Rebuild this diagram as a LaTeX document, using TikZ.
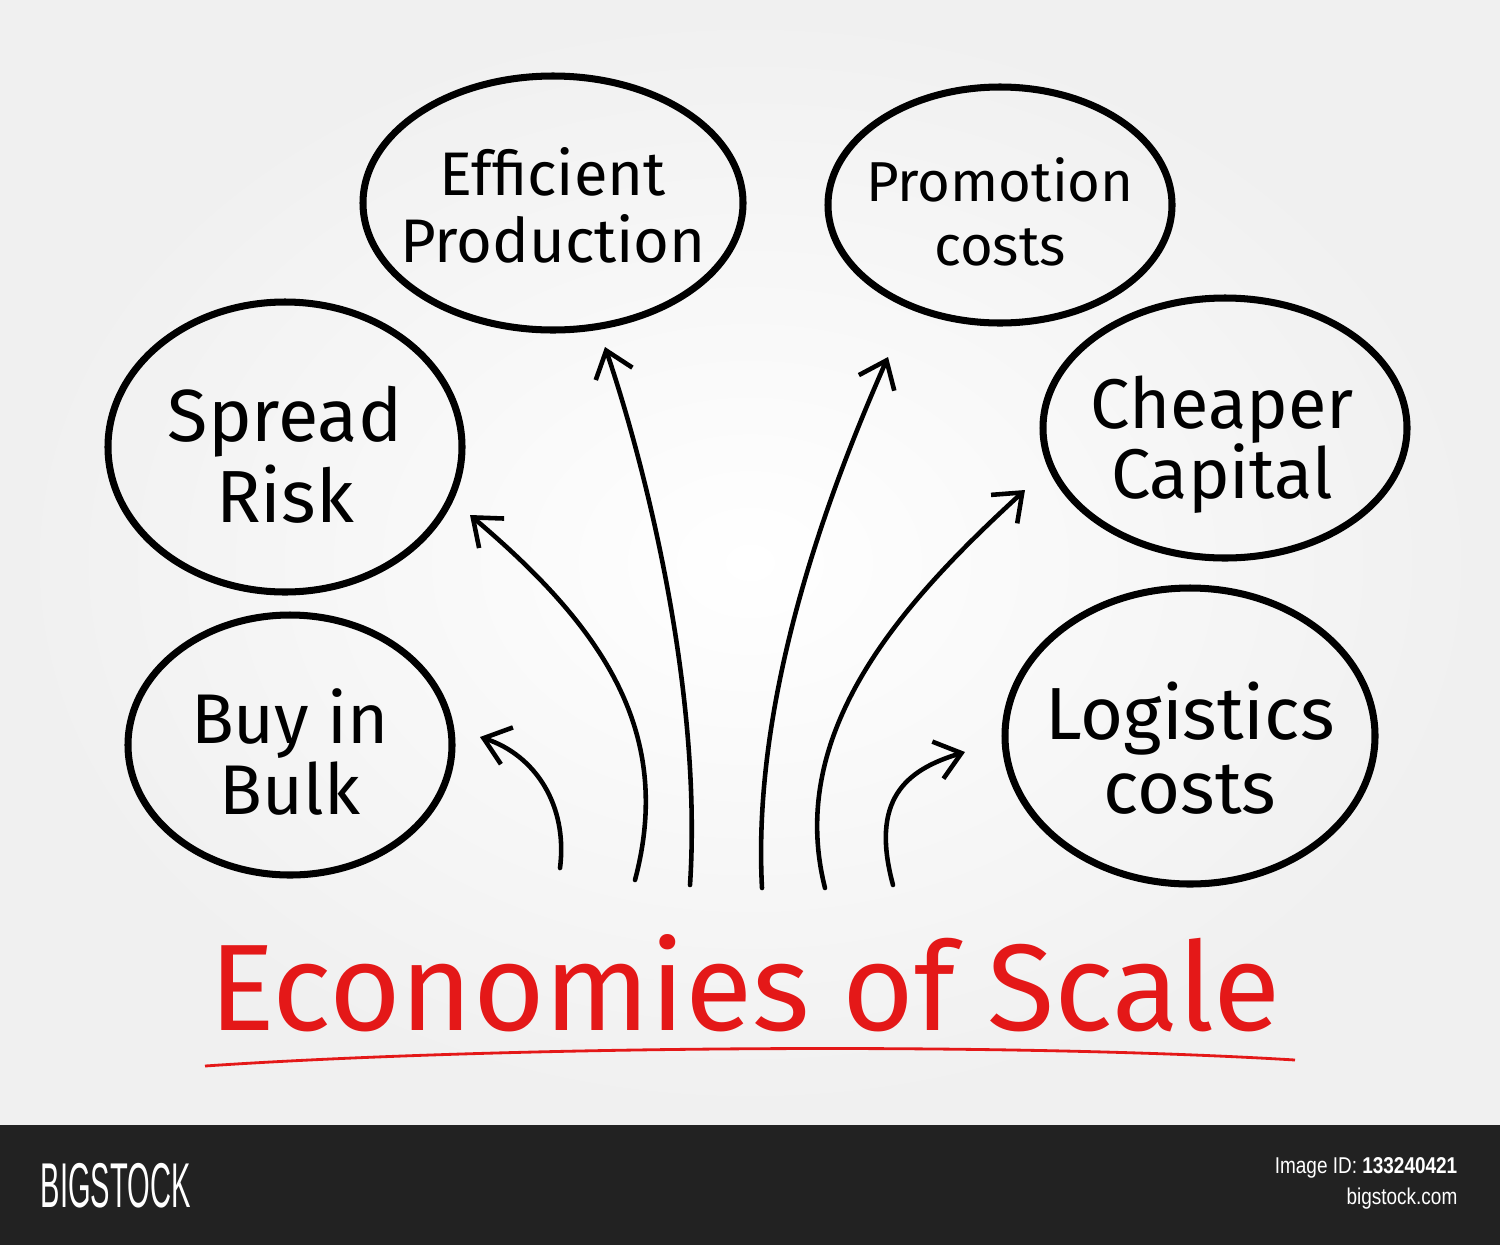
\documentclass[tikz,border=0pt]{standalone}
\usepackage{fontspec}
\setmainfont{Fira Sans}
\newfontfamily\barfont{Liberation Sans}
\usetikzlibrary{shapes.geometric, arrows.meta, positioning}
\definecolor{titlered}{RGB}{228, 24, 24}
\definecolor{barblack}{RGB}{34, 34, 34}
\tikzstyle{bubble} = [align=center, inner sep=0pt, font=\fontsize{20}{20}\selectfont]
\tikzstyle{ring} = [draw=black, line width=2pt]
\tikzstyle{arrow} = [line width=1.3pt, line cap=round, -{Straight Barb[length=7pt, width=11pt, line width=1.3pt]}]

\begin{document}
\begin{tikzpicture}[x=0.01cm, y=-0.01cm]

% Background and footer
\useasboundingbox (0,0) rectangle (1500,1245);
\shade[inner color=white, outer color=black!6] (0,0) rectangle (1500,1125);
\fill[barblack] (0,1125) rectangle (1500,1245);

% Nodes
\node (efficient) [bubble, font=\fontsize{17.5}{19}\selectfont] at (553,205) {Efficient\\Production};
\node (promotion) [bubble, font=\fontsize{16}{18}\selectfont] at (1000,212) {Promotion\\costs};
\node (spreadrisk) [bubble, font=\fontsize{21}{23}\selectfont] at (285,455) {Spread\\Risk};
\node (cheaper) [bubble] at (1222,445) {Cheaper\\Capital};
\node (buybulk) [bubble] at (290,752) {Buy in\\Bulk};
\node (logistics) [bubble, font=\fontsize{21}{21}\selectfont] at (1190,748) {Logistics\\costs};
\node (title) [text=titlered, font=\fontsize{35}{35}\selectfont] at (745,983) {Economies of Scale};

% Outlines
\draw [ring] (efficient.center) ++(0,-2) ellipse [x radius=190, y radius=127];
\draw [ring] (promotion.center) ++(0,-7) ellipse [x radius=172, y radius=118];
\draw [ring] (spreadrisk.center) ++(0,-8) ellipse [x radius=177, y radius=145];
\draw [ring] (cheaper.center) ++(3,-17) ellipse [x radius=182, y radius=130];
\draw [ring] (buybulk.center) ++(0,-7) ellipse [x radius=162, y radius=130];
\draw [ring] (logistics.center) ++(0,-12) ellipse [x radius=185, y radius=148];

% Arrow ends
\coordinate (s1) at (560,868);  \coordinate (t1) at (480,737);
\coordinate (s2) at (635,880);  \coordinate (t2) at (470,515);
\coordinate (s3) at (690,885);  \coordinate (t3) at (605,347);
\coordinate (s4) at (762,888);  \coordinate (t4) at (888,357);
\coordinate (s5) at (825,888);  \coordinate (t5) at (1025,490);
\coordinate (s6) at (893,885);  \coordinate (t6) at (965,752);
\coordinate (u1) at (205,1066); \coordinate (u2) at (1295,1060);

% Arrows
\draw [arrow] (s1) .. controls (568,805) and (535,755) .. (t1);
\draw [arrow] (s2) .. controls (675,730) and (600,625) .. (t2);
\draw [arrow] (s3) .. controls (702,700) and (650,480) .. (t3);
\draw [arrow] (s4) .. controls (752,700) and (825,500) .. (t4);
\draw [arrow] (s5) .. controls (785,730) and (905,600) .. (t5);
\draw [arrow] (s6) .. controls (870,800) and (905,770) .. (t6);

% Underline
\draw [titlered, line width=0.8pt] (u1) .. controls (500,1046) and (1000,1042) .. (u2);

% Footer texts
\node (brand) [anchor=west, text=white, inner sep=0pt] at (40,1186) {\scalebox{0.46}[1]{\barfont\fontsize{18}{18}\selectfont BIGSTOCK}};
\node (imageid) [anchor=east, text=white, inner sep=0pt] at (1458,1168) {\scalebox{0.83}[1]{\barfont\fontsize{6.5}{6.5}\selectfont Image ID: \textbf{133240421}}};
\node (site) [anchor=east, text=white, inner sep=0pt] at (1458,1199) {\scalebox{0.83}[1]{\barfont\fontsize{6.5}{6.5}\selectfont bigstock.com}};

\end{tikzpicture}
\end{document}
